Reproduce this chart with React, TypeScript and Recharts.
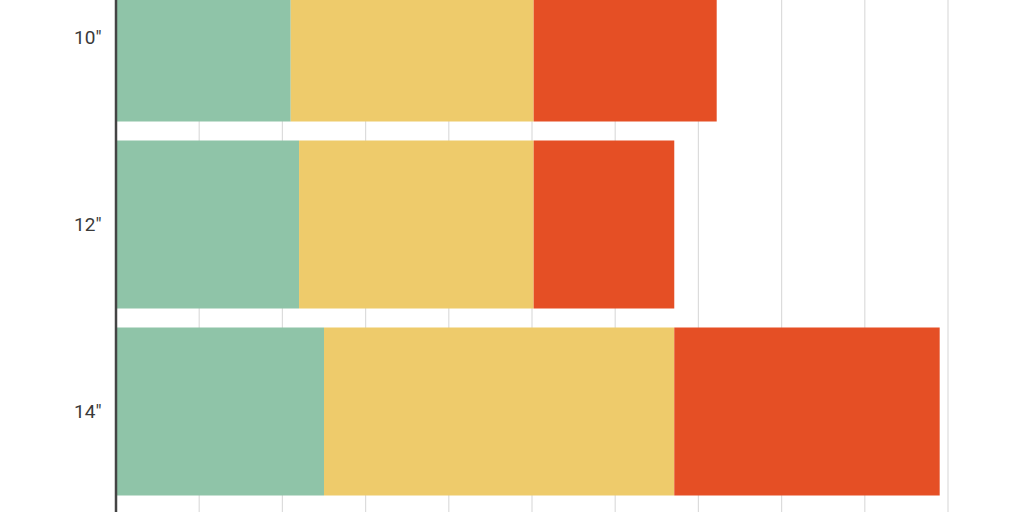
import { Bar, BarChart, CartesianGrid, XAxis, YAxis } from 'recharts';

const categories = ['10"', '12"', '14"'];
const greenValues = [2.1, 2.2, 2.5];
const yellowValues = [2.92, 2.82, 4.21];
const redValues = [2.2, 1.69, 3.19];
const xTicks = [0, 1, 2, 3, 4, 5, 6, 7, 8, 9, 10];

const data = categories.map((size, i) => ({
  size,
  green: greenValues[i],
  yellow: yellowValues[i],
  red: redValues[i],
}));

export default function App() {
  return (
    <div
      style={{
        position: 'fixed',
        top: 0,
        left: 0,
        width: 1024,
        height: 512,
        overflow: 'hidden',
        background: '#fff',
      }}
    >
      <div style={{ position: 'absolute', top: -100, left: 0 }}>
        <BarChart
          width={1024}
          height={700}
          data={data}
          layout="vertical"
          margin={{ top: 43.5, right: 76, bottom: 65.5, left: 0 }}
          barSize={168}
        >
          <CartesianGrid horizontal={false} stroke="#dcdcdc" strokeWidth={1.2} />
          <XAxis type="number" domain={[0, 10]} ticks={xTicks} hide />
          <YAxis
            type="category"
            dataKey="size"
            width={116}
            padding={{ top: 0, bottom: 30 }}
            axisLine={{ stroke: '#444', strokeWidth: 2.5 }}
            tickLine={false}
            tickSize={6}
            tickMargin={8.5}
            tick={{ fill: '#3a3a3a', fontSize: 19, fontFamily: 'Roboto' }}
          />
          <Bar dataKey="green" stackId="a" fill="#8fc4a8" isAnimationActive={false} />
          <Bar dataKey="yellow" stackId="a" fill="#eecb6b" isAnimationActive={false} />
          <Bar dataKey="red" stackId="a" fill="#e54f25" isAnimationActive={false} />
        </BarChart>
      </div>
    </div>
  );
}
